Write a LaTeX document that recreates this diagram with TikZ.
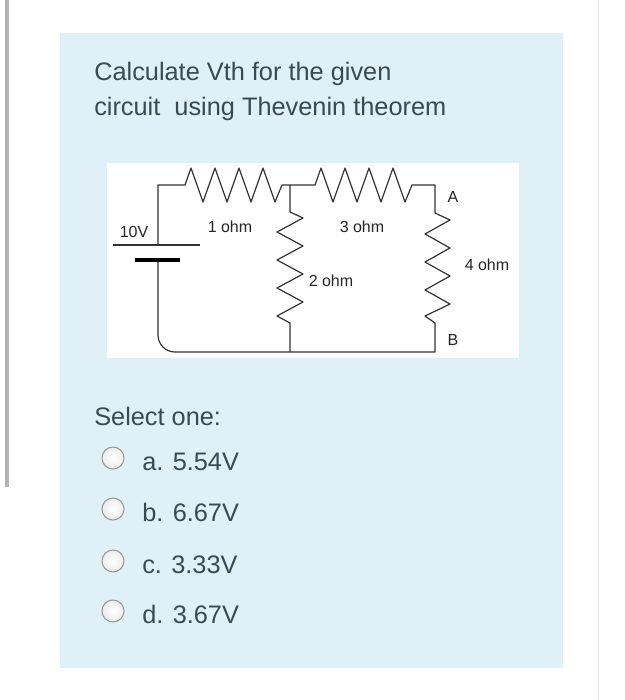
\documentclass[tikz,border=0pt]{standalone}
\usepackage{fontspec}
\setmainfont{Liberation Sans}
\begin{document}
\begin{tikzpicture}[x=0.75pt,y=-0.75pt,
  wire/.style={line width=0.9pt,black!80,line join=round},
  big/.style={text=txt,font=\fontsize{19}{22}\selectfont,anchor=base west,inner sep=0},
  lab/.style={font=\fontsize{12}{13}\selectfont,inner sep=0,text=black!85},
  radio/.style={circle,draw=gray!80,line width=0.8pt,minimum size=16.5pt,inner sep=0,shade,inner color=white,outer color=gray!15}]
\definecolor{card}{HTML}{DFF0F6}
\definecolor{txt}{HTML}{3A4A55}
\useasboundingbox (0,0) rectangle (625,700);
\fill[white] (0,0) rectangle (625,700);
\fill[gray!60] (5,0) rectangle (9,487);
\draw[gray!25] (598,0) -- (598,700);
\fill[card] (60,33) rectangle (563,668);
\node[big] (t1) at (94,80) {Calculate Vth for the given};
\node[big] (t2) at (94,115) {circuit\ \ using Thevenin theorem};
% circuit
\fill[white] (107,163) rectangle (519,358);
\coordinate (TL) at (158,185);
\coordinate (J) at (290,185);
\coordinate (TR) at (435,185);
\coordinate (BR) at (435,352);
\coordinate (BJ) at (290,352);
\draw[wire] (158,245) -- (TL) -- (185,185)
  -- (191,168) -- (203,202) -- (215,168) -- (227,202) -- (239,168) -- (251,202) -- (263,168) -- (275,202) -- (282,185) -- (J)
  -- (315,185) -- (321,168) -- (333,202) -- (345,168) -- (357,202) -- (369,168) -- (381,202) -- (393,168) -- (405,202) -- (412,185) -- (TR)
  -- (435,213) -- (450,220) -- (425,234) -- (450,248) -- (425,262) -- (450,276) -- (425,290) -- (450,304) -- (425,316) -- (435,323) -- (BR)
  -- (BJ) -- (175,352) to[out=180,in=-90] (158,335) -- (158,260);
\draw[wire] (J) -- (290,212) -- (303,218) -- (277,232) -- (303,246) -- (277,260) -- (303,274) -- (277,288) -- (303,302) -- (277,316) -- (290,323) -- (BJ);
\draw[wire] (113,245) -- (200,245);
\draw[line width=3.5pt] (135,260) -- (180,260);
\node[lab] (l10) at (134,232) {10V};
\node[lab] (l1) at (230,227) {1 ohm};
\node[lab] (l3) at (362,227) {3 ohm};
\node[lab] (l2) at (331,281) {2 ohm};
\node[lab] (l4) at (487,265) {4 ohm};
\node[lab] (lA) at (453,197) {A};
\node[lab] (lB) at (453,340) {B};
% options
\node[big] (sel) at (94,425) {Select one:};
\foreach \y/\t [count=\i] in {470/a. 5.54V,521/b. 6.67V,573/c. 3.33V,623/d. 3.67V}{
  \node[radio] (r\i) at (113,\y-12) {};
  \node[big] (o\i) at (142,\y) {\t};
}
\end{tikzpicture}
\end{document}
